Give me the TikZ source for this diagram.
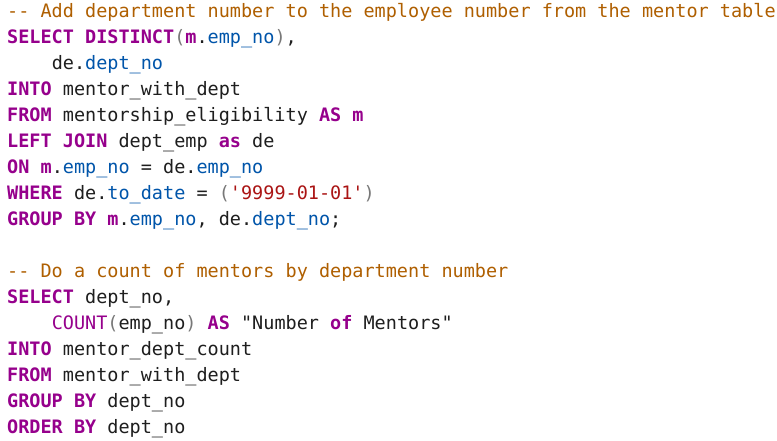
\documentclass[tikz,border=0pt]{standalone}
\usepackage{fontspec}
\setmonofont{DejaVu Sans Mono}
\definecolor{kwc}{RGB}{150,0,140}
\definecolor{idc}{RGB}{0,85,170}
\definecolor{cmc}{RGB}{175,95,0}
\definecolor{stc}{RGB}{170,20,20}
\definecolor{pnc}{RGB}{120,120,120}
\definecolor{txc}{RGB}{30,30,30}
\newcommand\kw[1]{\textcolor{kwc}{\bfseries #1}}
\newcommand\fn[1]{\textcolor{kwc}{#1}}
\newcommand\id[1]{\textcolor{idc}{#1}}
\newcommand\cm[1]{\textcolor{cmc}{#1}}
\newcommand\st[1]{\textcolor{stc}{#1}}
\newcommand\pn[1]{\textcolor{pnc}{#1}}
\newcommand\ind{\phantom{xxxx}}
\begin{document}
\begin{tikzpicture}[x=1pt,y=-1pt,
  codeline/.style={anchor=base west,inner sep=0pt,font=\ttfamily\fontsize{18.5}{20}\selectfont,text=txc}]
\useasboundingbox[fill=white] (0,0) rectangle (777,440);
\node[codeline] (l1) at (7,17) {\cm{-- Add department number to the employee number from the mentor table}};
\node[codeline] (l2) at (7,43) {\kw{SELECT} \kw{DISTINCT}\pn{(}\kw{m}.\id{emp\_no}\pn{)},};
\node[codeline] (l3) at (7,69) {\ind de.\id{dept\_no}};
\node[codeline] (l4) at (7,95) {\kw{INTO} mentor\_with\_dept};
\node[codeline] (l5) at (7,121) {\kw{FROM} mentorship\_eligibility \kw{AS} \kw{m}};
\node[codeline] (l6) at (7,147) {\kw{LEFT} \kw{JOIN} dept\_emp \kw{as} de};
\node[codeline] (l7) at (7,173) {\kw{ON} \kw{m}.\id{emp\_no} = de.\id{emp\_no}};
\node[codeline] (l8) at (7,199) {\kw{WHERE} de.\id{to\_date} = \pn{(}\st{'9999-01-01'}\pn{)}};
\node[codeline] (l9) at (7,225) {\kw{GROUP} \kw{BY} \kw{m}.\id{emp\_no}, de.\id{dept\_no};};
\node[codeline] (l10) at (7,277) {\cm{-- Do a count of mentors by department number}};
\node[codeline] (l11) at (7,303) {\kw{SELECT} dept\_no,};
\node[codeline] (l12) at (7,329) {\ind\fn{COUNT}\pn{(}emp\_no\pn{)} \kw{AS} "Number \kw{of} Mentors"};
\node[codeline] (l13) at (7,355) {\kw{INTO} mentor\_dept\_count};
\node[codeline] (l14) at (7,381) {\kw{FROM} mentor\_with\_dept};
\node[codeline] (l15) at (7,407) {\kw{GROUP} \kw{BY} dept\_no};
\node[codeline] (l16) at (7,433) {\kw{ORDER} \kw{BY} dept\_no};
\end{tikzpicture}
\end{document}
